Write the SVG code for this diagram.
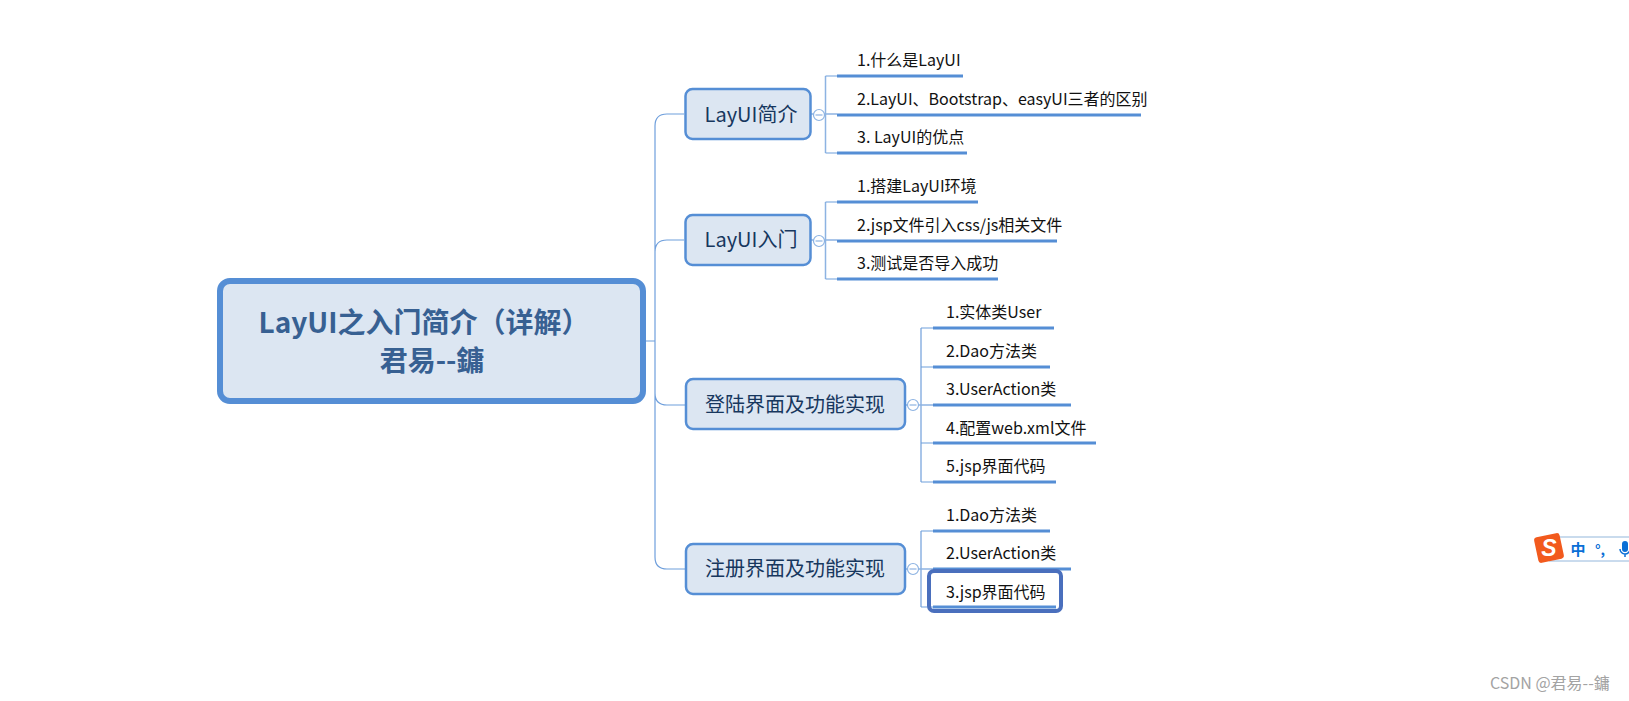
<svg xmlns="http://www.w3.org/2000/svg" width="1629" height="701" viewBox="0 0 1629 701">
<style>
text{font-family:"Noto Sans CJK SC","Noto Sans",sans-serif}
.root{fill:#dce6f2;stroke:#558ed5;stroke-width:6}
.main{fill:#dce6f2;stroke:#558ed5;stroke-width:2.5}
.t0{font-size:28px;font-weight:700;fill:#376092;text-anchor:middle}
.t1{font-size:20px;fill:#17375e;text-anchor:middle}
.t2{font-size:16px;fill:#111}
.ul{stroke:#558ed5;stroke-width:3;fill:none}
.c{stroke:#6f9fdc;stroke-width:1.2;fill:none}
.b{stroke:#8db3e2;stroke-width:1.5;fill:none}
.col{fill:#fff;stroke:#8db3e2;stroke-width:1.2}
.dash{stroke:#8db3e2;stroke-width:1.2}
</style>
<rect width="1629" height="701" fill="#fff"/>
<g id="connectors">
<path class="c" d="M646 341H655M684 114H667Q655 114 655 126V557Q655 569 667 569H685M684 240H667Q655 240 655 252M655 393Q655 405 667 405H685"/>
<path class="b" d="M811 114H837M825.500 76V153M906 405H933M921 328V482M906 569H933M921 531V607"/>
<path class="b" d="M825.500 202V279M811 240H837"/>
<path class="c" d="M825.500 76H837M825.500 153H837M825.500 202H837M825.500 279H837M921 328H933M921 367H933M921 443H933M921 482H933M921 531H933M921 607H933"/>
<path class="ul" d="M837 76H963M837 115H1141M837 153H967M837 202H978M837 241H1057M837 279H998M933 328H1054M933 367H1050M933 405H1071M933 443H1096M933 482H1056M933 531H1050M933 569H1071M933 607H1056"/>
</g>
<g id="root"><rect class="root" x="220" y="281" width="423" height="120" rx="10"/>
<text class="t0" x="424" y="333">LayUI之入门简介（详解）</text><text class="t0" x="432" y="371">君易--鏞</text></g>
<g id="n1"><rect class="main" x="685.500" y="89" width="125" height="50" rx="7"/><text class="t1" x="751" y="122">LayUI简介</text>
<circle class="col" cx="819" cy="115" r="5.500"/><path class="dash" d="M815.500 115H822.500"/></g>
<g id="n2"><rect class="main" x="685.500" y="215" width="125" height="50" rx="7"/><text class="t1" x="751" y="247">LayUI入门</text>
<circle class="col" cx="819" cy="241" r="5.500"/><path class="dash" d="M815.500 241H822.500"/></g>
<g id="n3"><rect class="main" x="686" y="379" width="219" height="50" rx="7"/><text class="t1" x="795" y="412">登陆界面及功能实现</text>
<circle class="col" cx="913" cy="405" r="5.500"/><path class="dash" d="M909.500 405H916.500"/></g>
<g id="n4"><rect class="main" x="686" y="544" width="219" height="50" rx="7"/><text class="t1" x="795" y="576">注册界面及功能实现</text>
<circle class="col" cx="913" cy="569" r="5.500"/><path class="dash" d="M909.500 569H916.500"/></g>
<g id="leaves">
<text class="t2" x="857" y="66">1.什么是LayUI</text>
<text class="t2" x="857" y="105">2.LayUI、Bootstrap、easyUI三者的区别</text>
<text class="t2" x="857" y="143">3. LayUI的优点</text>
<text class="t2" x="857" y="192">1.搭建LayUI环境</text>
<text class="t2" x="857" y="231">2.jsp文件引入css/js相关文件</text>
<text class="t2" x="857" y="269">3.测试是否导入成功</text>
<text class="t2" x="946" y="318">1.实体类User</text>
<text class="t2" x="946" y="357">2.Dao方法类</text>
<text class="t2" x="946" y="395">3.UserAction类</text>
<text class="t2" x="946" y="434">4.配置web.xml文件</text>
<text class="t2" x="946" y="472">5.jsp界面代码</text>
<text class="t2" x="946" y="521">1.Dao方法类</text>
<text class="t2" x="946" y="559">2.UserAction类</text>
<text class="t2" x="946" y="598">3.jsp界面代码</text>
</g>
<rect id="selection" x="929" y="571" width="132" height="40" rx="5" fill="none" stroke="#4a6fbd" stroke-width="4"/>
<g id="ime">
<rect x="1550" y="537" width="90" height="24" fill="#fff" stroke="#b8cfe8" stroke-width="1.500"/>
<rect x="1536" y="535" width="26" height="26" rx="3" fill="#f25a1d" transform="rotate(-12 1549 548)"/>
<text x="1549" y="556" font-size="23" font-weight="700" font-style="italic" fill="#fff" text-anchor="middle" style="font-family:'Liberation Sans',sans-serif">S</text>
<text x="1578" y="555" font-size="15" font-weight="700" fill="#0a6fd6" text-anchor="middle">中</text>
<text x="1600" y="555" font-size="14" font-weight="700" fill="#0a6fd6" text-anchor="middle">°,</text>
<rect x="1622" y="541" width="6" height="11" rx="3" fill="#0a6fd6"/>
<path d="M1620 549a5 5 0 0 0 10 0M1625 554v3" fill="none" stroke="#0a6fd6" stroke-width="1.500"/>
</g>
<text id="wm" x="1490" y="689" font-size="16" fill="#a3a3a3">CSDN @君易--鏞</text>
</svg>
